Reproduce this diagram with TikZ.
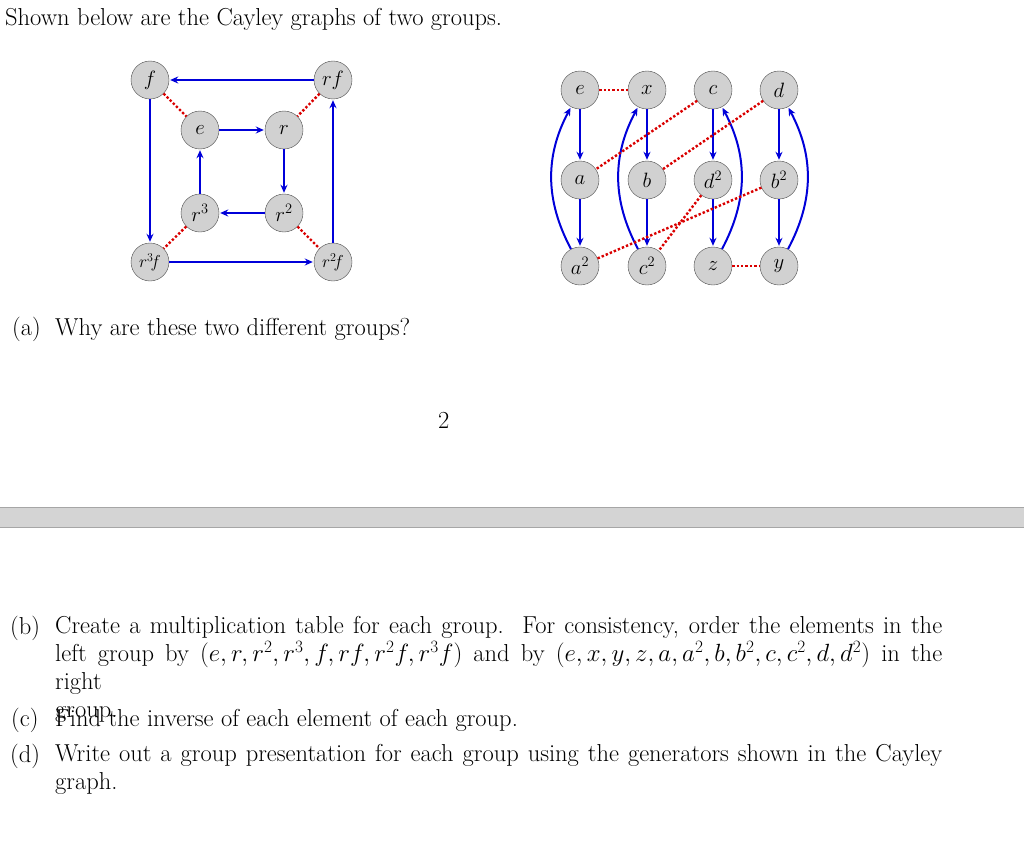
\documentclass[tikz,border=0pt]{standalone}
\usetikzlibrary{arrows.meta}
\begin{document}
\begin{tikzpicture}[x=1pt,y=-1pt,
  v/.style={circle,draw=black!70,fill=black!18,minimum size=38pt,inner sep=0pt,font=\fontsize{20}{20}\selectfont},
  bl/.style={draw=blue!85!black,line width=2pt,-{Stealth[length=8pt,width=7pt]},shorten >=1pt},
  rd/.style={draw=red!85!black,line width=2.4pt,dotted},
  txt/.style={anchor=base west,inner sep=0pt,font=\fontsize{24.5}{28}\selectfont},
  par/.style={anchor=north west,inner sep=0pt,font=\fontsize{24.5}{28}\selectfont,text width=887pt,align=justify}]
\useasboundingbox (0,0) rectangle (1024,840);
\fill[black!17] (0,507) rectangle (1024,527);
\draw[black!35,line width=1pt] (0,507)--(1024,507) (0,527)--(1024,527);
\node[txt] (t0) at (5,26) {Shown below are the Cayley graphs of two groups.};
% left graph
\node[v] (f) at (150,80) {$f$};
\node[v] (rf) at (333,80) {$rf$};
\node[v] (e) at (200,130) {$e$};
\node[v] (r) at (284,130) {$r$};
\node[v] (r3) at (200,213) {$r^3$};
\node[v] (r2) at (284,213) {$r^2$};
\node[v,font=\fontsize{17}{17}\selectfont] (r3f) at (150,262) {$r^3\!f$};
\node[v,font=\fontsize{17}{17}\selectfont] (r2f) at (333,262) {$r^2\!f$};
\draw[bl] (e)--(r); \draw[bl] (r)--(r2); \draw[bl] (r2)--(r3); \draw[bl] (r3)--(e);
\draw[bl] (rf)--(f); \draw[bl] (f)--(r3f); \draw[bl] (r3f)--(r2f); \draw[bl] (r2f)--(rf);
\draw[rd] (f)--(e); \draw[rd] (rf)--(r); \draw[rd] (r3)--(r3f); \draw[rd] (r2)--(r2f);
% right graph
\node[v] (E) at (580,90) {$e$};
\node[v] (X) at (647,90) {$x$};
\node[v] (C) at (713,90) {$c$};
\node[v] (D) at (779,90) {$d$};
\node[v] (A) at (580,180) {$a$};
\node[v] (B) at (647,180) {$b$};
\node[v] (D2) at (713,180) {$d^2$};
\node[v] (B2) at (779,180) {$b^2$};
\node[v] (A2) at (580,266) {$a^2$};
\node[v] (C2) at (647,266) {$c^2$};
\node[v] (Z) at (713,266) {$z$};
\node[v] (Y) at (779,266) {$y$};
\draw[bl] (E)--(A); \draw[bl] (A)--(A2); \draw[bl] (A2) to[bend left=28] (E);
\draw[bl] (X)--(B); \draw[bl] (B)--(C2); \draw[bl] (C2) to[bend left=28] (X);
\draw[bl] (C)--(D2); \draw[bl] (D2)--(Z); \draw[bl] (Z) to[bend right=28] (C);
\draw[bl] (D)--(B2); \draw[bl] (B2)--(Y); \draw[bl] (Y) to[bend right=28] (D);
\draw[rd] (E)--(X); \draw[rd] (C)--(A); \draw[rd] (D)--(B);
\draw[rd] (B2)--(A2); \draw[rd] (D2)--(C2); \draw[rd] (Z)--(Y);
% text
\node[txt] (la) at (12,335) {(a)};
\node[txt] (qa) at (55,335) {Why are these two different groups?};
\node[txt] (pg) at (438,428) {2};
\node[txt] (lb) at (10,634) {(b)};
\node[par] (qb) at (55,616) {Create a multiplication table for each group.\ \ For consistency, order the elements in the\linebreak left group by $(e,r,r^2,r^3,f,rf,r^2f,r^3f)$ and by $(e,x,y,z,a,a^2,b,b^2,c,c^2,d,d^2)$ in the right\linebreak group.};
\node[txt] (lc) at (11,726) {(c)};
\node[txt] (qc) at (55,726) {Find the inverse of each element of each group.};
\node[txt] (ld) at (10,762) {(d)};
\node[par] (qd) at (55,744) {Write out a group presentation for each group using the generators shown in the Cayley\linebreak graph.};
\end{tikzpicture}
\end{document}
